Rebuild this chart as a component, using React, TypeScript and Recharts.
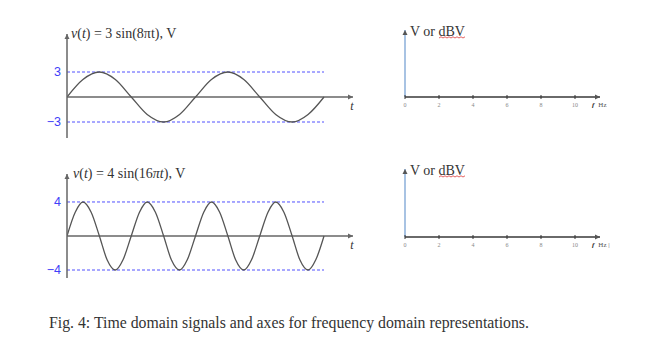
import React from 'react';
import { LineChart, Line, XAxis, YAxis, ReferenceLine, ReferenceDot } from 'recharts';

// ---- data ----
const topTime = [0, 0.031, 0.063, 0.094, 0.125, 0.156, 0.188, 0.219, 0.25, 0.281, 0.313, 0.344, 0.375, 0.406, 0.438, 0.469, 0.5];
const topVolts = [0, 2.1, 3, 2.1, 0, -2.1, -3, -2.1, 0, 2.1, 3, 2.1, 0, -2.1, -3, -2.1, 0];
const bottomTime = [0, 0.016, 0.031, 0.047, 0.063, 0.078, 0.094, 0.109, 0.125, 0.141, 0.156, 0.172, 0.188, 0.203, 0.219, 0.234, 0.25, 0.266, 0.281, 0.297, 0.313, 0.328, 0.344, 0.359, 0.375, 0.391, 0.406, 0.422, 0.438, 0.453, 0.469, 0.484, 0.5];
const bottomVolts = [0, 2.8, 4, 2.8, 0, -2.8, -4, -2.8, 0, 2.8, 4, 2.8, 0, -2.8, -4, -2.8, 0, 2.8, 4, 2.8, 0, -2.8, -4, -2.8, 0, 2.8, 4, 2.8, 0, -2.8, -4, -2.8, 0];
const topLevels = [3, -3];
const bottomLevels = [4, -4];
const freqTicks = [0, 2, 4, 6, 8, 10];
const caption = 'Fig. 4: Time domain signals and axes for frequency domain representations.';

const SERIF = '"Liberation Serif", "Times New Roman", serif';
const AXIS = '#666';
const BLUE = '#4040f8';
const DASH = '#5050ff';

function fmt(v: number) {
  return v < 0 ? `\u2212${-v}` : `${v}`;
}

function BlueTick(props: any) {
  const { x, y, payload } = props;
  return (
    <text x={x + 2} y={y} textAnchor="end" dominantBaseline="central" fill={BLUE} fontSize={12.5} fontFamily='"Liberation Sans", Arial, sans-serif'>
      {fmt(payload.value)}
    </text>
  );
}

function FreqTick(props: any) {
  const { x, y, payload } = props;
  return (
    <g>
      <line x1={x} x2={x} y1={y - 2} y2={y + 2} stroke="#333" strokeWidth={1} />
      <text x={x} y={y + 8} textAnchor="middle" dominantBaseline="central" fill="#888" fontSize={6} fontFamily={SERIF}>
        {payload.value}
      </text>
    </g>
  );
}

function upArrow(cx: number, cy: number, fill: string) {
  return <path d={`M${cx - 2.5},${cy + 5} L${cx},${cy} L${cx + 2.5},${cy + 5} Z`} fill={fill} />;
}
function rightArrow(cx: number, cy: number, fill: string) {
  return <path d={`M${cx - 5},${cy - 2.5} L${cx},${cy} L${cx - 5},${cy + 2.5} Z`} fill={fill} />;
}

type TimeProps = {
  top: number;
  times: number[];
  volts: number[];
  levels: number[];
  yMin: number;
  yMax: number;
  titleDx: number;
  title: React.ReactNode;
};

const X_MAX = 0.5564;

function TimeChart({ top, times, volts, levels, yMin, yMax, titleDx, title }: TimeProps) {
  const data = times.map((t, i) => ({ t, v: volts[i] }));
  return (
    <div style={{ position: 'absolute', left: 0, top, width: 370, height: 150 }}>
      <LineChart width={370} height={150} data={data} margin={{ top: 34, right: 17, bottom: 12, left: 37 }}>
        <XAxis dataKey="t" type="number" domain={[0, X_MAX]} hide allowDataOverflow />
        <YAxis
          type="number"
          domain={[yMin, yMax]}
          ticks={levels}
          interval={0}
          width={30}
          allowDataOverflow
          axisLine={{ stroke: AXIS, strokeWidth: 1.5 }}
          tickLine={false}
          tick={<BlueTick />}
        />
        <ReferenceLine y={0} stroke={AXIS} strokeWidth={1.5} />
        {levels.map((l) => (
          <ReferenceLine
            key={l}
            segment={[{ x: 0, y: l }, { x: 0.5, y: l }]}
            stroke={DASH}
            strokeWidth={1}
            strokeDasharray="3 2"
          />
        ))}
        <Line dataKey="v" type="monotone" stroke="#555" strokeWidth={1.3} dot={false} isAnimationActive={false} />
        <ReferenceDot
          x={0}
          y={yMax}
          r={0}
          shape={(p: any) => (
            <g>
              {upArrow(p.cx, p.cy, AXIS)}
              <text x={p.cx + titleDx} y={p.cy - 1} dominantBaseline="central" fontSize={14} fontFamily={SERIF} fill="#333">
                {title}
              </text>
            </g>
          )}
        />
        <ReferenceDot
          x={X_MAX}
          y={0}
          r={0}
          shape={(p: any) => (
            <g>
              {rightArrow(p.cx, p.cy, AXIS)}
              <text x={p.cx - 1} y={p.cy + 9} textAnchor="middle" dominantBaseline="central" fontSize={12} fontStyle="italic" fontFamily={SERIF} fill="#333">
                t
              </text>
            </g>
          )}
        />
      </LineChart>
    </div>
  );
}

const F_MAX = 11.47;

function FreqChart({ top, marginTop, tail }: { top: number; marginTop: number; tail: string }) {
  const data = freqTicks.map((f) => ({ f }));
  return (
    <div style={{ position: 'absolute', left: 370, top, width: 278, height: 150 }}>
      <LineChart width={278} height={150} data={data} margin={{ top: marginTop, right: 48, bottom: 33, left: 35 }}>
        <XAxis
          dataKey="f"
          type="number"
          domain={[0, F_MAX]}
          ticks={freqTicks}
          interval={0}
          height={20}
          allowDataOverflow
          axisLine={{ stroke: '#6a6a6a', strokeWidth: 2 }}
          tickLine={false}
          tickSize={0}
          tickMargin={0}
          tick={<FreqTick />}
        />
        <YAxis type="number" domain={[0, 1]} hide allowDataOverflow />
        <ReferenceLine x={0} stroke="#a8c3e3" strokeWidth={2} />
        <ReferenceDot
          x={0}
          y={1}
          r={0}
          shape={(p: any) => (
            <g>
              {upArrow(p.cx, p.cy, '#555')}
              <text x={p.cx + 5} y={p.cy + 1} dominantBaseline="central" fontSize={14} fontFamily={SERIF} fill="#333">
                V or dBV
              </text>
              <path
                d={`M${p.cx + 34},${p.cy + 8} l2,-1.2 l2,1.2 l2,-1.2 l2,1.2 l2,-1.2 l2,1.2 l2,-1.2 l2,1.2 l2,-1.2 l2,1.2 l2,-1.2 l2,1.2 l2,-1.2`}
                stroke="#e05050"
                strokeWidth={0.9}
                fill="none"
              />
            </g>
          )}
        />
        <ReferenceDot
          x={F_MAX}
          y={0}
          r={0}
          shape={(p: any) => (
            <g>
              {rightArrow(p.cx, p.cy, '#555')}
              <text x={p.cx - 8} y={p.cy + 8} dominantBaseline="central" fontSize={7} fontFamily={SERIF} fill="#555">
                <tspan fontStyle="italic" fontWeight="bold" fill="#222">f</tspan>
                <tspan dx={4}>{tail}</tspan>
              </text>
            </g>
          )}
        />
      </LineChart>
    </div>
  );
}

export default function App() {
  return (
    <div style={{ position: 'absolute', left: 0, top: 0, width: 648, height: 342, background: '#fff', overflow: 'hidden' }}>
      <TimeChart
        top={0}
        times={topTime}
        volts={topVolts}
        levels={topLevels}
        yMin={-4.92}
        yMax={7.56}
        titleDx={4}
        title={
          <>
            <tspan fontStyle="italic">v</tspan>(<tspan fontStyle="italic">t</tspan>) = 3 sin(8πt), V
          </>
        }
      />
      <TimeChart
        top={140}
        times={bottomTime}
        volts={bottomVolts}
        levels={bottomLevels}
        yMin={-4.94}
        yMax={7.29}
        titleDx={6}
        title={
          <>
            <tspan fontStyle="italic">v</tspan>(<tspan fontStyle="italic">t</tspan>) = 4 sin(16<tspan fontStyle="italic">πt</tspan>), V
          </>
        }
      />
      <FreqChart top={0} marginTop={30} tail="Hz" />
      <FreqChart top={140} marginTop={29} tail="Hz  |" />
      <div
        style={{
          position: 'absolute',
          left: 49,
          top: 313,
          fontFamily: SERIF,
          fontSize: 15.8,
          lineHeight: '20px',
          color: '#333',
          whiteSpace: 'nowrap',
        }}
      >
        {caption}
      </div>
    </div>
  );
}
